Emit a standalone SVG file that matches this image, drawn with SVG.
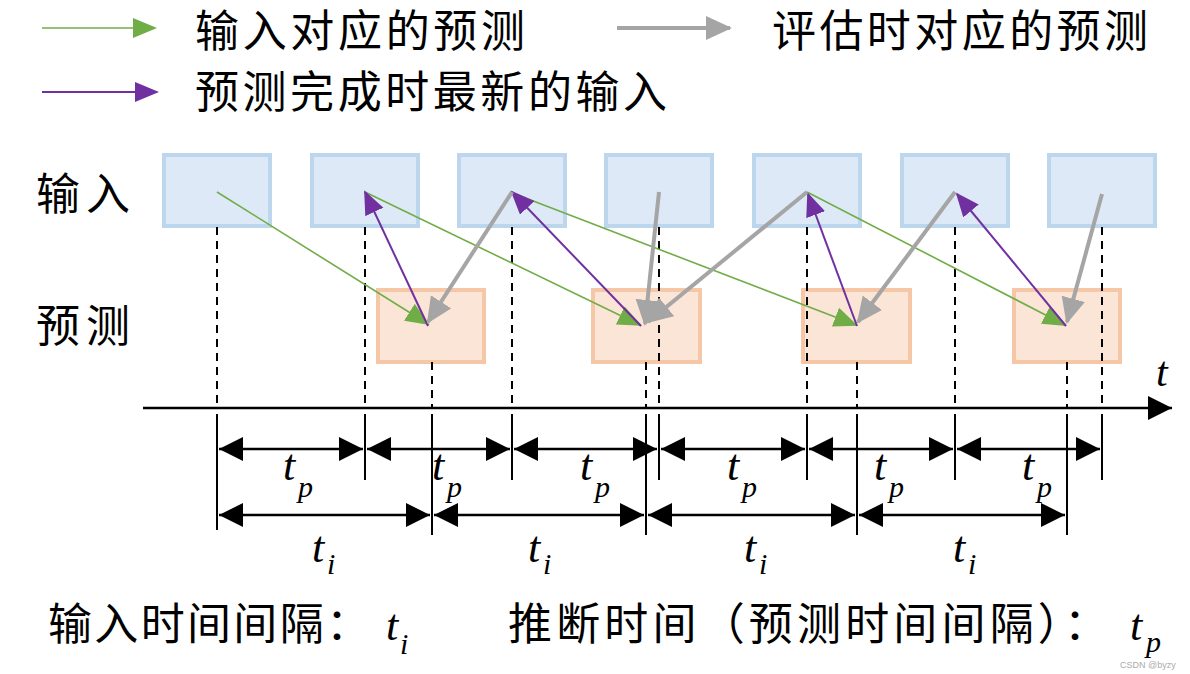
<svg xmlns="http://www.w3.org/2000/svg" width="1190" height="674" viewBox="0 0 1190 674">
<style>
.in{fill:#dde9f6;stroke:#bcd6ee;stroke-width:4}
.pr{fill:#fbe5d7;stroke:#f6c7a6;stroke-width:4}
.cn{font-family:"Noto Sans CJK SC","Noto Sans",sans-serif;font-size:44px;fill:#000}
.it{font-family:"Liberation Serif",serif;font-style:italic;fill:#000}
.d{stroke:#000;stroke-width:2;stroke-dasharray:8,6;fill:none}
.v{stroke:#000;stroke-width:2;fill:none}
.g{stroke:#70ad47;stroke-width:1.6;fill:none;marker-end:url(#mg)}
.p{stroke:#7030a0;stroke-width:2;fill:none;marker-end:url(#mp)}
.y{stroke:#a5a5a5;stroke-width:4;fill:none;marker-end:url(#my)}
.da{stroke:#000;stroke-width:2.5;fill:none;marker-start:url(#ms);marker-end:url(#me)}
</style>
<defs>
<marker id="mg" markerUnits="userSpaceOnUse" markerWidth="26" markerHeight="22" refX="22" refY="10" orient="auto"><path d="M0,0 L24,10 L0,20 Z" fill="#70ad47"/></marker>
<marker id="mp" markerUnits="userSpaceOnUse" markerWidth="26" markerHeight="22" refX="22" refY="10" orient="auto"><path d="M0,0 L24,10 L0,20 Z" fill="#7030a0"/></marker>
<marker id="my" markerUnits="userSpaceOnUse" markerWidth="28" markerHeight="26" refX="24" refY="12" orient="auto"><path d="M0,0 L26,12 L0,24 Z" fill="#a5a5a5"/></marker>
<marker id="me" markerUnits="userSpaceOnUse" markerWidth="26" markerHeight="26" refX="24" refY="12" orient="auto"><path d="M0,0 L24,12 L0,24 Z" fill="#000"/></marker>
<marker id="ms" markerUnits="userSpaceOnUse" markerWidth="26" markerHeight="26" refX="0" refY="12" orient="auto"><path d="M24,0 L0,12 L24,24 Z" fill="#000"/></marker>
</defs>
<g id="legend">
<line x1="42" y1="28" x2="155" y2="28" class="g"/>
<text x="195" y="47" class="cn" textLength="330">输入对应的预测</text>
<line x1="617" y1="28" x2="730" y2="28" class="y"/>
<text x="772" y="47" class="cn" textLength="376">评估时对应的预测</text>
<line x1="42" y1="92" x2="157" y2="92" class="p"/>
<text x="195" y="108" class="cn" textLength="472">预测完成时最新的输入</text>
</g>
<text x="36" y="210" class="cn" textLength="94">输入</text>
<text x="36" y="342" class="cn" textLength="94">预测</text>
<g id="inputs">
<rect id="in1" x="164" y="155" width="106" height="71" class="in"/>
<rect id="in2" x="312" y="155" width="106" height="71" class="in"/>
<rect id="in3" x="459" y="155" width="106" height="71" class="in"/>
<rect id="in4" x="606" y="155" width="106" height="71" class="in"/>
<rect id="in5" x="754" y="155" width="106" height="71" class="in"/>
<rect id="in6" x="902" y="155" width="106" height="71" class="in"/>
<rect id="in7" x="1049" y="155" width="106" height="71" class="in"/>
</g>
<g id="preds">
<rect id="pr1" x="378" y="290" width="106" height="72" class="pr"/>
<rect id="pr2" x="593" y="290" width="107" height="72" class="pr"/>
<rect id="pr3" x="803" y="290" width="107" height="72" class="pr"/>
<rect id="pr4" x="1014" y="290" width="106" height="72" class="pr"/>
</g>
<g id="guides">
<path class="d" d="M217,227V408 M365,227V408 M512,227V408 M659,227V408 M807,227V408 M955,227V408 M1102,227V408 M432,362V408 M646,362V408 M857,362V408 M1067,362V408"/>
<path class="v" d="M217,414V530 M365,414V480 M512,414V480 M659,414V480 M807,414V480 M955,414V480 M1102,414V480 M432,414V535 M646,414V535 M857,414V535 M1067,414V535"/>
<line x1="143" y1="408" x2="1172" y2="408" stroke="#000" stroke-width="2.5" marker-end="url(#me)"/>
<text x="1156" y="386" class="it" font-size="42">t</text>
</g>
<g id="connectors">
<line x1="217" y1="192" x2="428" y2="324" class="g"/>
<line x1="365" y1="192" x2="640" y2="325" class="g"/>
<line x1="515" y1="194" x2="856" y2="325" class="g"/>
<line x1="807" y1="192" x2="1065" y2="325" class="g"/>
<line x1="428" y1="326" x2="365" y2="192" class="p"/>
<line x1="641" y1="326" x2="512" y2="192" class="p"/>
<line x1="857" y1="326" x2="808" y2="194" class="p"/>
<line x1="1066" y1="326" x2="957" y2="194" class="p"/>
<line x1="512" y1="192" x2="428" y2="322" class="y"/>
<line x1="659" y1="192" x2="645" y2="324" class="y"/>
<line x1="807" y1="192" x2="648" y2="322" class="y"/>
<line x1="955" y1="192" x2="858" y2="322" class="y"/>
<line x1="1102" y1="194" x2="1067" y2="322" class="y"/>
</g>
<g id="dims">
<line x1="219" y1="449" x2="363" y2="449" class="da"/>
<line x1="367" y1="449" x2="510" y2="449" class="da"/>
<line x1="514" y1="449" x2="657" y2="449" class="da"/>
<line x1="661" y1="449" x2="805" y2="449" class="da"/>
<line x1="809" y1="449" x2="953" y2="449" class="da"/>
<line x1="957" y1="449" x2="1100" y2="449" class="da"/>
<line x1="219" y1="515" x2="430" y2="515" class="da"/>
<line x1="434" y1="515" x2="644" y2="515" class="da"/>
<line x1="648" y1="515" x2="855" y2="515" class="da"/>
<line x1="859" y1="515" x2="1065" y2="515" class="da"/>
<g class="it" font-size="44">
<text x="283" y="480">t</text><text x="432" y="480">t</text><text x="580" y="480">t</text><text x="727" y="480">t</text><text x="874" y="480">t</text><text x="1022" y="480">t</text>
<text x="312" y="562">t</text><text x="528" y="562">t</text><text x="744" y="562">t</text><text x="953" y="562">t</text>
</g>
<g class="it" font-size="30">
<text x="298" y="497">p</text><text x="447" y="497">p</text><text x="595" y="497">p</text><text x="742" y="497">p</text><text x="889" y="497">p</text><text x="1037" y="497">p</text>
<text x="327" y="574">i</text><text x="543" y="574">i</text><text x="759" y="574">i</text><text x="968" y="574">i</text>
</g>
</g>
<g id="footer">
<text x="48" y="640" class="cn" textLength="322">输入时间间隔：</text>
<text x="386" y="640" class="it" font-size="44">t</text><text x="400" y="654" class="it" font-size="30">i</text>
<text x="508" y="640" class="cn" textLength="600">推断时间（预测时间间隔）：</text>
<text x="1130" y="640" class="it" font-size="44">t</text><text x="1146" y="652" class="it" font-size="30">p</text>
<text x="1120" y="668" font-family="Liberation Sans,sans-serif" font-size="9" fill="#aaa">CSDN @byzy</text>
</g>
</svg>
